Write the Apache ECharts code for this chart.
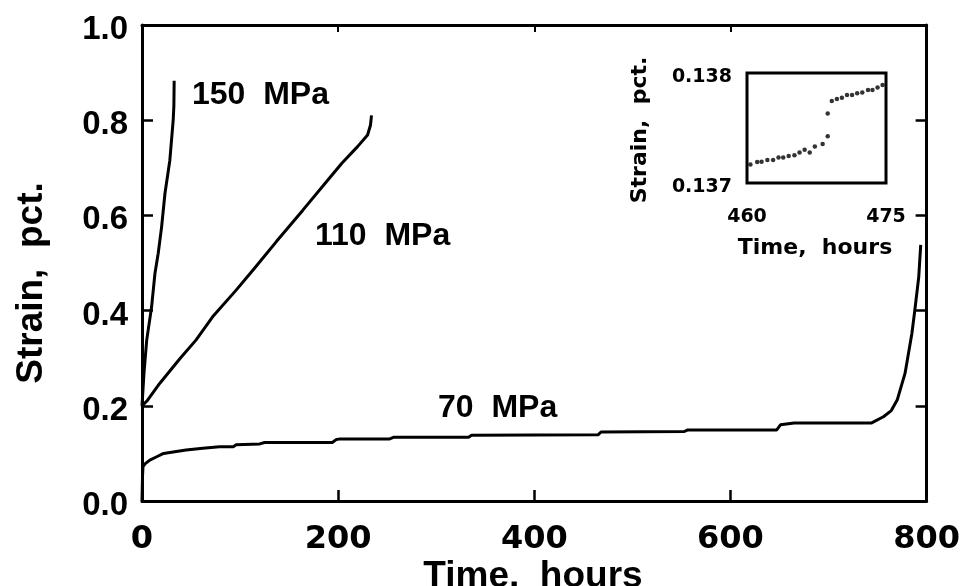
<!DOCTYPE html>
<html>
<head>
<meta charset="utf-8">
<script src="https://cdn.jsdelivr.net/npm/echarts@6/dist/echarts.min.js"></script>
<style>
  html, body { margin: 0; padding: 0; background: #fff; }
  #chart { width: 963px; height: 586px; }
</style>
</head>
<body>
<div id="chart"></div>
<script>
// ---- data ----
const xTicks = [0, 200, 400, 600, 800];
const yTicks = [0, 0.2, 0.4, 0.6, 0.8, 1.0];

const t150 = [0, 2, 4.8, 9.8, 13.2, 16.5, 20, 23.4, 28.4, 31.8, 32.5, 32.8];
const s150 = [0.20, 0.268, 0.338, 0.408, 0.478, 0.52, 0.576, 0.646, 0.716, 0.80, 0.83, 0.883];

const t110 = [0, 5, 18, 39, 55, 72, 96, 116, 137, 164, 191, 204, 220, 230, 233, 234];
const s110 = [0.20, 0.21, 0.247, 0.30, 0.338, 0.387, 0.443, 0.492, 0.545, 0.611, 0.678, 0.71, 0.745, 0.769, 0.79, 0.81];

const t70 = [0, 0.5, 1, 3, 8, 15, 22, 35, 45, 62, 79, 93, 96, 120, 125, 194, 198, 201, 252, 257, 333, 336, 465, 468, 553, 556, 647, 651, 665, 744, 756, 764, 770, 778, 785, 788, 792, 794];
const s70 = [0, 0.05, 0.072, 0.078, 0.086, 0.093, 0.10, 0.104, 0.107, 0.111, 0.114, 0.114, 0.118, 0.12, 0.123, 0.123, 0.129, 0.13, 0.13, 0.134, 0.134, 0.138, 0.139, 0.145, 0.146, 0.149, 0.149, 0.16, 0.164, 0.164, 0.177, 0.19, 0.212, 0.268, 0.352, 0.401, 0.471, 0.538];

// inset (zoom of 70 MPa curve)
const tInset = [460.37, 461.10, 461.57, 462.20, 462.82, 463.40, 463.91, 464.50, 465.12, 465.67, 466.22, 466.77, 467.32, 468.16, 468.71, 468.71, 469.15, 469.70, 470.24, 470.79, 471.34, 471.89, 472.44, 473.06, 473.54, 474.09, 474.63];
const sInset = [0.137169, 0.137191, 0.137194, 0.137209, 0.137209, 0.137231, 0.137231, 0.137246, 0.137252, 0.137277, 0.137302, 0.137277, 0.137332, 0.137354, 0.137425, 0.137631, 0.137745, 0.137763, 0.137775, 0.137800, 0.137800, 0.137815, 0.137822, 0.137846, 0.137846, 0.137868, 0.137892];

const curveLabels = ['150  MPa', '110  MPa', '70  MPa'];
const xTitle = 'Time,  hours';
const yTitle = 'Strain,  pct.';

const zip = (a, b) => a.map((v, i) => [v, b[i]]);

const chart = echarts.init(document.getElementById('chart'), null, { renderer: 'canvas' });
const black = '#000';
const lineW = 3;
const fontSans = 'Liberation Sans, Arial, Helvetica, sans-serif';
const fontWide = 'DejaVu Sans, Verdana, sans-serif';

const lineSeries = (name, t, s) => ({
  name, type: 'line', xAxisIndex: 0, yAxisIndex: 0,
  data: zip(t, s), showSymbol: false, symbol: 'none', smooth: false,
  lineStyle: { color: black, width: lineW }, z: 3, animation: false
});

const option = {
  animation: false,
  backgroundColor: '#fff',
  grid: [
    { left: 142, top: 25, width: 788, height: 476, show: false },
    { left: 747, top: 73, width: 139, height: 110, show: true, borderColor: black, borderWidth: 3, backgroundColor: 'transparent' }
  ],
  xAxis: [
    { gridIndex: 0, type: 'value', min: xTicks[0], max: xTicks[xTicks.length - 1], interval: 200, position: 'bottom',
      axisLine: { show: true, onZero: false, lineStyle: { color: black, width: 3 } },
      axisTick: { show: true, inside: true, length: 11, lineStyle: { color: black, width: 2.5 } },
      axisLabel: { show: true, margin: 39, verticalAlign: 'middle', color: black, fontFamily: fontWide, fontWeight: 'bold', fontSize: 32 },
      splitLine: { show: false } },
    { gridIndex: 0, type: 'value', min: xTicks[0], max: xTicks[xTicks.length - 1], interval: 200, position: 'top',
      axisLine: { show: true, onZero: false, lineStyle: { color: black, width: 3 } },
      axisTick: { show: true, inside: true, length: 7, lineStyle: { color: black, width: 2 } },
      axisLabel: { show: false }, splitLine: { show: false } },
    { gridIndex: 1, type: 'value', min: 460, max: 475, interval: 15,
      axisLine: { show: false }, axisTick: { show: false },
      axisLabel: { show: true, margin: 34, verticalAlign: 'middle', color: black, fontFamily: fontWide, fontWeight: 'bold', fontSize: 19 },
      splitLine: { show: false } }
  ],
  yAxis: [
    { gridIndex: 0, type: 'value', min: yTicks[0], max: yTicks[yTicks.length - 1], interval: 0.2, position: 'left',
      axisLine: { show: true, onZero: false, lineStyle: { color: black, width: 3 } },
      axisTick: { show: true, inside: true, length: 11, lineStyle: { color: black, width: 2.5 } },
      axisLabel: { show: true, margin: 14, color: black, fontFamily: fontSans, fontWeight: 'bold', fontSize: 33,
        verticalAlign: 'top', lineHeight: 10, formatter: v => v.toFixed(1) },
      splitLine: { show: false } },
    { gridIndex: 0, type: 'value', min: yTicks[0], max: yTicks[yTicks.length - 1], interval: 0.2, position: 'right',
      axisLine: { show: true, onZero: false, lineStyle: { color: black, width: 3 } },
      axisTick: { show: true, inside: true, length: 11, lineStyle: { color: black, width: 2.5 } },
      axisLabel: { show: false }, splitLine: { show: false } },
    { gridIndex: 1, type: 'value', min: 0.137, max: 0.138, interval: 0.001,
      axisLine: { show: false }, axisTick: { show: false },
      axisLabel: { show: true, margin: 15, color: black, fontFamily: fontWide, fontWeight: 'bold', fontSize: 19,
        verticalAlign: 'top', lineHeight: 8, formatter: v => v.toFixed(3) },
      splitLine: { show: false } }
  ],
  series: [
    lineSeries('150 MPa', t150, s150),
    lineSeries('110 MPa', t110, s110),
    lineSeries('70 MPa', t70, s70),
    { name: 'inset', type: 'scatter', xAxisIndex: 2, yAxisIndex: 2, data: zip(tInset, sInset),
      symbol: 'circle', symbolSize: 4.5, itemStyle: { color: black }, animation: false }
  ],
  graphic: [
    { type: 'text', x: 32, y: 283, rotation: Math.PI / 2,
      style: { text: yTitle, fill: black, font: 'bold 37px ' + fontSans, textAlign: 'center', textVerticalAlign: 'middle', align: 'center', verticalAlign: 'middle' } },
    { type: 'text', x: 533, y: 577,
      style: { text: xTitle, fill: black, font: 'bold 37px ' + fontSans, textAlign: 'center', textVerticalAlign: 'middle', align: 'center', verticalAlign: 'middle' } },
    { type: 'text', x: 192, y: 95,
      style: { text: curveLabels[0], fill: black, font: 'bold 32px ' + fontSans, textAlign: 'left', textVerticalAlign: 'middle', align: 'left', verticalAlign: 'middle' } },
    { type: 'text', x: 315, y: 236,
      style: { text: curveLabels[1], fill: black, font: 'bold 32px ' + fontSans, textAlign: 'left', textVerticalAlign: 'middle', align: 'left', verticalAlign: 'middle' } },
    { type: 'text', x: 438, y: 408,
      style: { text: curveLabels[2], fill: black, font: 'bold 32px ' + fontSans, textAlign: 'left', textVerticalAlign: 'middle', align: 'left', verticalAlign: 'middle' } },
    { type: 'text', x: 640, y: 130, rotation: Math.PI / 2,
      style: { text: yTitle, fill: black, font: 'bold 22px ' + fontWide, textAlign: 'center', textVerticalAlign: 'middle', align: 'center', verticalAlign: 'middle' } },
    { type: 'text', x: 815, y: 248,
      style: { text: xTitle, fill: black, font: 'bold 22px ' + fontWide, textAlign: 'center', textVerticalAlign: 'middle', align: 'center', verticalAlign: 'middle' } }
  ]
};
chart.setOption(option);
</script>
</body>
</html>
